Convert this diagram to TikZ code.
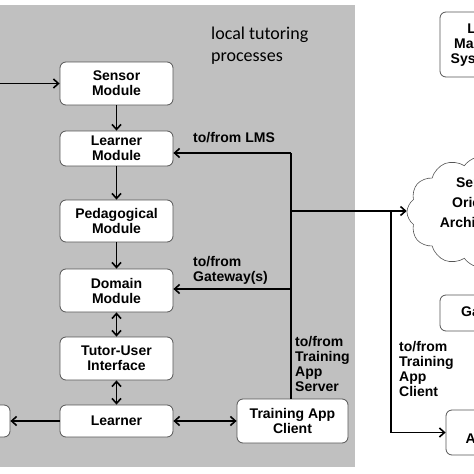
\documentclass[tikz,border=0pt]{standalone}
\usepackage{fontspec}
\setmainfont{Liberation Sans}
\newfontfamily\carlitofont{Carlito}
\usetikzlibrary{arrows.meta,shapes.symbols}
\definecolor{bg}{RGB}{192,192,192}
\definecolor{edge}{RGB}{85,85,85}
\tikzset{
 box/.style={draw=edge, line width=0.8pt, fill=white, rounded corners=6pt, align=center, inner sep=0pt, font=\fontsize{14}{15}\selectfont\bfseries, minimum width=113pt},
 lbl/.style={inner sep=0pt, align=left, anchor=north west, font=\fontsize{14}{15}\selectfont\bfseries},
 conn/.style={line width=1.6pt, black},
 arr/.style={conn, -{Straight Barb[length=5pt,width=9pt]}},
 darr/.style={conn, {Straight Barb[length=5pt,width=9pt]}-{Straight Barb[length=5pt,width=9pt]}},
}
\begin{document}
\begin{tikzpicture}[x=1pt,y=-1pt]
\clip (0,0) rectangle (474,474);
\fill[bg] (0,5) rectangle (355,467);
\node[inner sep=0pt, align=left, anchor=north west, font=\carlitofont\fontsize{18}{22}\selectfont] (title) at (211,27) {local tutoring\\processes};
% left column
\node[box, minimum height=43pt] (sensor) at (116.5,83.5) {Sensor\\Module};
\node[box, minimum height=35pt] (lmod) at (116.5,148.5) {Learner\\Module};
\node[box, minimum height=42pt] (ped) at (116.5,221) {Pedagogical\\Module};
\node[box, minimum height=43pt] (dom) at (116.5,290.5) {Domain\\Module};
\node[box, minimum height=43pt] (tui) at (116.5,358.5) {Tutor-User\\Interface};
\node[box, minimum height=32pt] (learner) at (116.5,421) {Learner};
\node[box, minimum height=32pt, minimum width=100pt] (leftbox) at (-40,421) {};
\node[box, minimum height=44pt, minimum width=111pt] (tac) at (292.5,421) {Training App\\Client};
% right column
\node[box, minimum height=65pt, minimum width=114pt] (lms) at (497,44.5) {Learning\\Management\\System (LMS)};
\node[cloud, cloud puffs=12, cloud puff arc=110, aspect=1.35, draw=edge, line width=0.6pt, fill=white, minimum width=152pt, minimum height=112pt] (soa) at (483,212) {};
\node[inner sep=0pt, align=center, font=\fontsize{14}{20}\selectfont\bfseries] (soatext) at (481,202) {Service\\Oriented\\Architecture};
\node[box, minimum height=36pt, minimum width=100pt] (gw) at (490,313) {Gateway};
\node[box, minimum height=45pt, minimum width=114pt] (abox) at (503,432.5) {Training\\App Server};
% labels
\node[lbl] (llms) at (193,132) {to/from LMS};
\node[lbl] (lgw) at (193,256) {to/from\\Gateway(s)};
\node[lbl] (lserver) at (295,336) {to/from\\Training\\App\\Server};
\node[lbl] (lclient) at (399,341) {to/from\\Training\\App\\Client};
% connectors
\coordinate (in0) at (0,83.5);
\coordinate (j1) at (291,153);
\coordinate (j2) at (291,289);
\coordinate (j3) at (291,211);
\coordinate (k1) at (391,211);
\coordinate (k2) at (391,432.5);
\draw[arr] (in0) -- (sensor.west);
\draw[arr] (sensor.south) -- (lmod.north);
\draw[arr] (lmod.south) -- (ped.north);
\draw[arr] (ped.south) -- (dom.north);
\draw[darr] (dom.south) -- (tui.north);
\draw[darr] (tui.south) -- (learner.north);
\draw[arr] (learner.west) -- (leftbox.east);
\draw[darr] (learner.east) -- (tac.west);
\draw[conn] (tac.north -| j1) -- (j1);
\draw[arr] (j1) -- (j1 -| lmod.east);
\draw[arr] (j2) -- (j2 -| dom.east);
\draw[arr] (j3) -- (j3 -| soa.west);
\draw[conn] (k1) -- (k2);
\draw[arr] (k2) -- (abox.west);
\end{tikzpicture}
\end{document}
